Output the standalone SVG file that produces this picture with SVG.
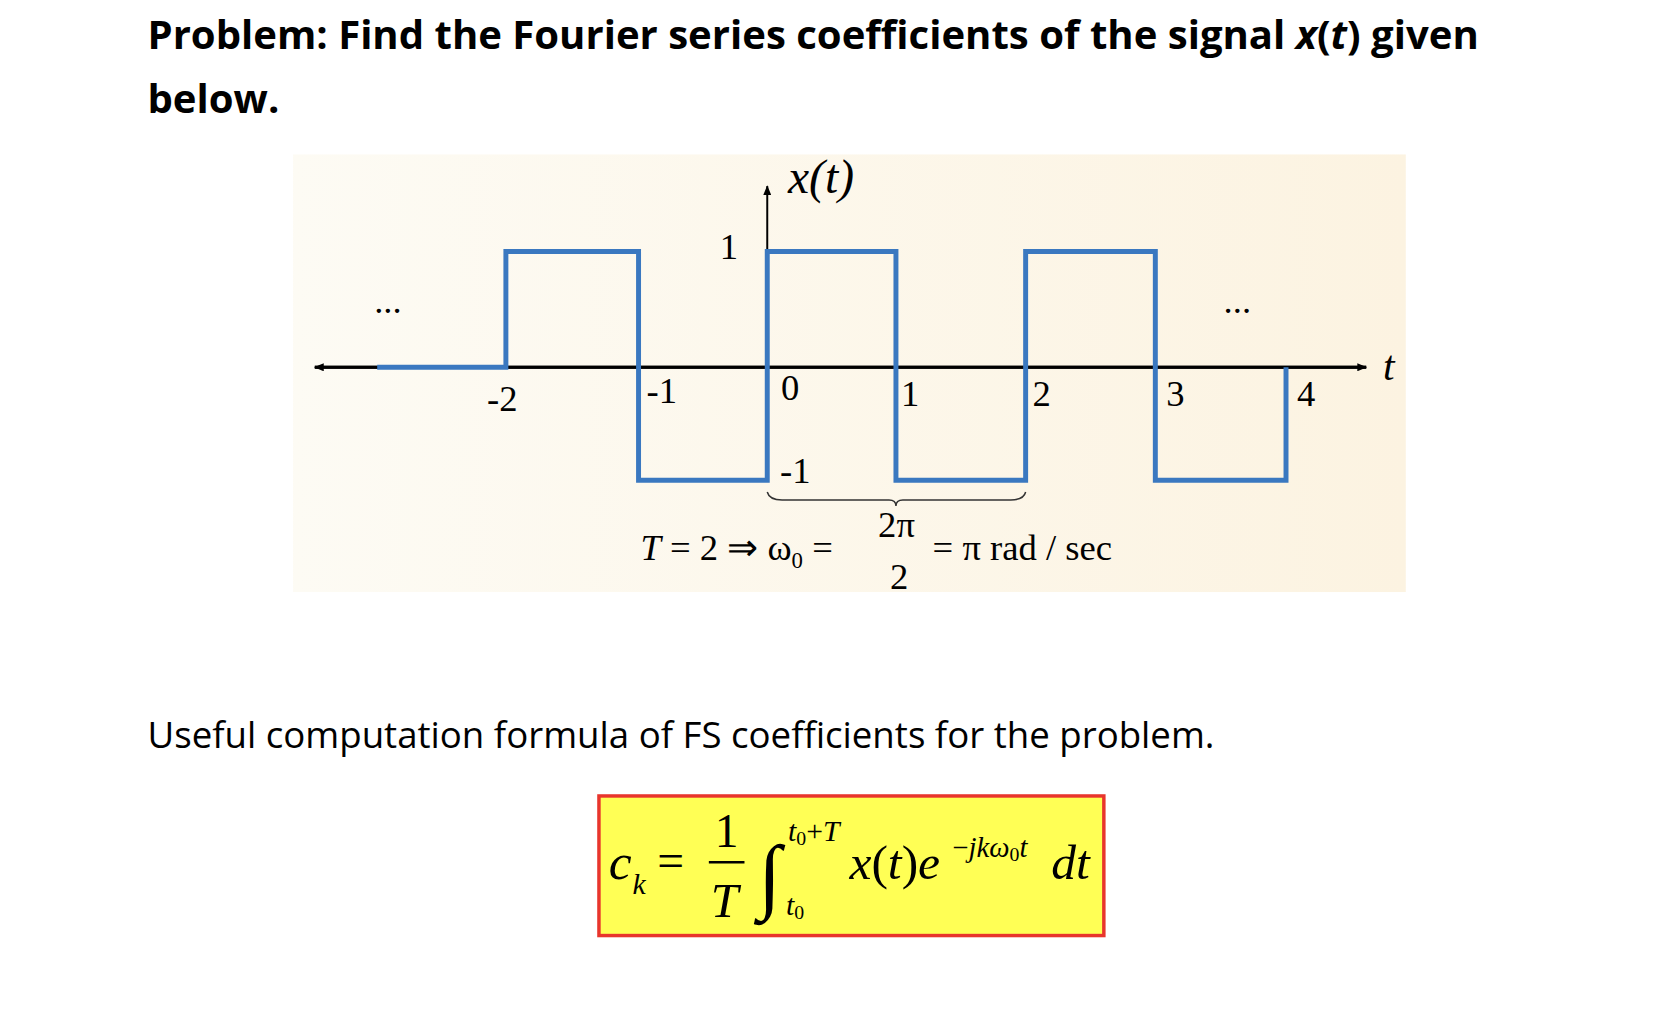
<svg xmlns="http://www.w3.org/2000/svg" width="1680" height="1014" viewBox="0 0 1680 1014">
<defs>
<linearGradient id="bg" x1="0" y1="0" x2="1" y2="0"><stop offset="0" stop-color="#fdfbf4"/><stop offset="1" stop-color="#fcf3e1"/></linearGradient>
<marker id="ah" markerWidth="10" markerHeight="8" refX="9" refY="4" orient="auto" markerUnits="userSpaceOnUse"><path d="M0,0 L10,4 L0,8 Z" fill="#000"/></marker>
<style>
.h{font-family:"Open Sans","Liberation Sans",sans-serif;font-size:40.5px;font-weight:bold;fill:#000}
.p{font-family:"Open Sans","Liberation Sans",sans-serif;font-size:37px;fill:#000}
.s{font-family:"Liberation Serif",serif;font-size:37px;fill:#000}
.i{font-style:italic}
.sig{fill:none;stroke:#3a78c0;stroke-width:5}
</style>
</defs>
<rect width="1680" height="1014" fill="#fff"/>
<g transform="scale(0.99)">
<text class="h" x="149" y="50">Problem: Find the Fourier series coefficients of the signal <tspan style="font-style:italic">x</tspan>(<tspan style="font-style:italic">t</tspan>) given</text>
<text class="h" x="149" y="114">below.</text>
<g id="plot">
<rect x="296" y="156" width="1124" height="442" fill="url(#bg)"/>
<g id="connectors">
<line x1="1380" y1="371" x2="318" y2="371" stroke="#000" stroke-width="3" marker-end="url(#ah)"/>
<line x1="318" y1="371" x2="1380" y2="371" stroke="#000" stroke-width="3" marker-end="url(#ah)"/>
<line x1="775" y1="371" x2="775" y2="188" stroke="#000" stroke-width="2" marker-end="url(#ah)"/>
<line x1="775" y1="385" x2="775" y2="402" stroke="#000" stroke-width="2"/>
</g>
<path class="sig" d="M381,371 H511 V254 H645 V485 H775 V254 H905 V485 H1036 V254 H1167 V485 H1299 V371"/>
<path d="M775,497 Q777,505 790,505 H898 Q905,505 905,511 Q905,505 912,505 H1021 Q1034,505 1036,497" fill="none" stroke="#333" stroke-width="1.5"/>
<text class="s i" x="796" y="195" style="font-size:48px">x(t)</text>
<text class="s" x="727" y="262">1</text>
<text class="s" x="378" y="316">...</text>
<text class="s" x="1236" y="316">...</text>
<text class="s i" x="1397" y="384" style="font-size:42px">t</text>
<text class="s" x="492" y="415">-2</text>
<text class="s" x="653" y="407">-1</text>
<text class="s" x="789" y="404">0</text>
<text class="s" x="910" y="410">1</text>
<text class="s" x="1043" y="410">2</text>
<text class="s" x="1178" y="410">3</text>
<text class="s" x="1310" y="410">4</text>
<text class="s" x="788" y="488">-1</text>
<text class="s" x="647" y="566"><tspan class="i">T</tspan> = 2 ⇒ ω<tspan style="font-size:23px" dy="8">0</tspan><tspan dy="-8"> =</tspan></text>
<text class="s" x="887" y="542">2π</text>
<text class="s" x="899" y="595">2</text>
<text class="s" x="942" y="566">= π  rad / sec</text>
</g>
<text class="p" x="149" y="756">Useful computation formula of FS coefficients for the problem.</text>
<g id="formula">
<rect x="605" y="804" width="510" height="141" fill="#ffff55" stroke="#e8352c" stroke-width="3.5"/>
<text class="s i" x="615" y="888" style="font-size:52px">c</text>
<text class="s i" x="639" y="903" style="font-size:30px">k</text>
<text class="s" x="664" y="886" style="font-size:48px">=</text>
<text class="s" x="722" y="856" style="font-size:48px">1</text>
<line x1="716" y1="871" x2="752" y2="871" stroke="#000" stroke-width="2.5"/>
<text class="s i" x="718" y="926" style="font-size:50px">T</text>
<text class="s" x="766" y="912" style="font-size:84px">∫</text>
<text class="s i" x="796" y="850" style="font-size:30px">t<tspan style="font-size:20px;font-style:normal" dy="4">0</tspan><tspan dy="-4" style="font-style:normal">+</tspan>T</text>
<text class="s i" x="794" y="924" style="font-size:30px">t<tspan style="font-size:20px;font-style:normal" dy="4">0</tspan></text>
<text class="s i" x="858" y="888" style="font-size:50px">x<tspan style="font-style:normal">(</tspan>t<tspan style="font-style:normal">)</tspan>e</text>
<text class="s i" x="962" y="866" style="font-size:29px"><tspan style="font-style:normal">−</tspan>jkω<tspan style="font-size:20px;font-style:normal" dy="4">0</tspan><tspan dy="-4">t</tspan></text>
<text class="s i" x="1062" y="888" style="font-size:50px">dt</text>
</g>
</g>
</svg>
